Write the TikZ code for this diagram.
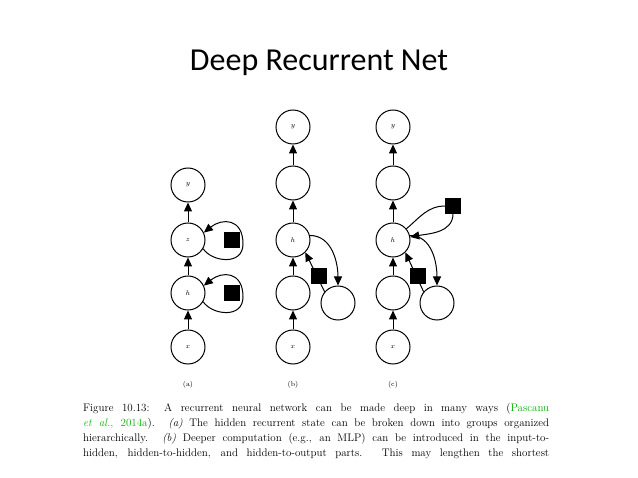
\documentclass[tikz,border=0pt]{standalone}
\usepackage{fontspec}
\newfontfamily\titlefont{Carlito}
\usetikzlibrary{arrows.meta}
\begin{document}
\begin{tikzpicture}[x=1pt,y=-1pt,
  nd/.style={circle,draw,line width=1pt,minimum size=34pt,inner sep=0pt,font=\scriptsize},
  sq/.style={draw,fill=black,minimum size=15pt,inner sep=0pt},
  tip/.style={-{Triangle[length=9pt,width=8pt]}},
  ar/.style={line width=1pt,tip},
  ln/.style={line width=1pt},
  lab/.style={font=\scriptsize}]
\useasboundingbox (0,0) rectangle (638,478);
\node[font=\titlefont\fontsize{32}{36}\selectfont] (title) at (319,63) {Deep Recurrent Net};
% (a)
\node[nd] (ay) at (188,185) {$y$};
\node[nd] (az) at (188,240) {$z$};
\node[nd] (ah) at (188,293) {$h$};
\node[nd] (ax) at (188,347) {$x$};
\node[sq] (asz) at (232,240) {};
\node[sq] (ash) at (232,293) {};
\draw[ar] (ax) -- (ah);
\draw[ar] (ah) -- (az);
\draw[ar] (az) -- (ay);
\draw[ln,tip] (az.-30) .. controls (212,262) and (243,266) .. (243,244) .. controls (243,218) and (222,218) .. (az.25);
\draw[ln,tip] (ah.-30) .. controls (212,315) and (243,319) .. (243,297) .. controls (243,271) and (222,271) .. (ah.25);
\node[lab] (la) at (188,385) {(a)};
% (b)
\node[nd] (by) at (293,127) {$y$};
\node[nd] (bo) at (293,183) {};
\node[nd] (bh) at (293,240) {$h$};
\node[nd] (bi) at (293,293) {};
\node[nd] (bx) at (293,347) {$x$};
\node[nd] (be) at (338,303) {};
\node[sq] (bs) at (319,276) {};
\draw[ar] (bx) -- (bi);
\draw[ar] (bi) -- (bh);
\draw[ar] (bh) -- (bo);
\draw[ar] (bo) -- (by);
\draw[ar] (bh.15) to[out=0,in=90] (be.north);
\draw[ar] (be.140) -- (bh.-45);
\node[lab] (lb) at (293,385) {(b)};
% (c)
\node[nd] (cy) at (393,127) {$y$};
\node[nd] (co) at (393,183) {};
\node[nd] (ch) at (393,240) {$h$};
\node[nd] (ci) at (393,293) {};
\node[nd] (cx) at (393,347) {$x$};
\node[nd] (ce) at (437,303) {};
\node[sq] (cs) at (418,276) {};
\node[sq] (ct) at (453,206) {};
\draw[ar] (cx) -- (ci);
\draw[ar] (ci) -- (ch);
\draw[ar] (ch) -- (co);
\draw[ar] (co) -- (cy);
\draw[ar] (ch.15) to[out=0,in=90] (ce.north);
\draw[ar] (ce.140) -- (ch.-45);
\draw[ln] (ch.40) to[out=40,in=180] (ct.west);
\draw[ar] (ct.south) to[out=-90,in=10] (ch.10);
\node[lab] (lc) at (393,385) {(c)};
% caption
\node[anchor=north west,inner sep=0pt,text width=466pt,align=justify,font=\fontsize{11}{15}\selectfont] (cap) at (83,403)
{Figure 10.13: A recurrent neural network can be made deep in many ways ({\color{green!70!black}Pascanu}\linebreak
{\color{green!70!black}\emph{et al.}, 2014a}). \emph{(a)} The hidden recurrent state can be broken down into groups organized\linebreak
hierarchically. \emph{(b)} Deeper computation (e.g., an MLP) can be introduced in the input-to-\linebreak
hidden, hidden-to-hidden, and hidden-to-output parts. This may lengthen the shortest\linebreak};
\end{tikzpicture}
\end{document}
